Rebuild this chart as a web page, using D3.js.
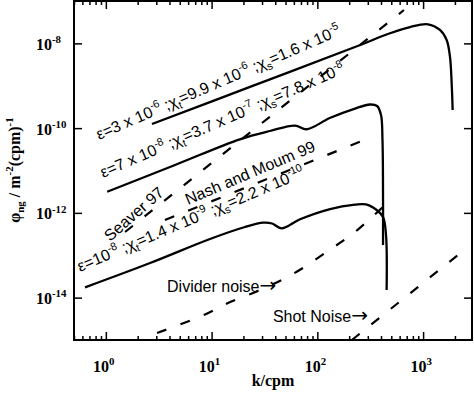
<!DOCTYPE html>
<html><head><meta charset="utf-8">
<script src="https://cdn.jsdelivr.net/npm/d3@7"></script>
<style>body{margin:0;background:#fff}svg{display:block}</style>
</head><body><svg id="c" width="474" height="393"></svg>
<script>
// ---- data ----
const xTickExp = [0, 1, 2, 3];
const yTickExp = [-8, -10, -12, -14];

const c1K   = [2.73, 23.1, 227, 486, 751, 1112, 1443, 1670, 1795, 1862, 1903];
const c1Phi = [1.25e-10, 9.4e-10, 8.2e-9, 1.73e-8, 2.43e-8, 2.82e-8, 2.07e-8, 1.2e-8, 4.85e-9, 1.16e-9, 2.68e-10];

const c2K   = [1.03, 4.51, 18.5, 35.6, 61.5, 79.3, 131, 227, 315, 367, 400, 413, 418, 418];
const c2Phi = [3.16e-12, 1.35e-11, 5.45e-11, 8.55e-11, 1.15e-10, 9.4e-11, 1.73e-10, 2.9e-10, 3.61e-10, 3.33e-10, 2.04e-10, 5.25e-11, 2.0e-12, 1.75e-13];

const c3K   = [0.636, 2.62, 9.66, 20.7, 30.8, 37.3, 46.0, 68.6, 132, 227, 288, 364, 418, 446, 452];
const c3Phi = [1.75e-14, 6.56e-14, 2.42e-13, 4.64e-13, 5.86e-13, 5.61e-13, 4.32e-13, 7.05e-13, 1.23e-12, 1.56e-12, 1.59e-12, 1.17e-12, 8.0e-13, 3.0e-13, 1.51e-14];

const seaverK   = [1.52, 659];
const seaverPhi = [3.54e-13, 6.13e-8];
const nashK     = [3.62, 264];
const nashPhi   = [6.79e-13, 4.97e-11];
const dividerK   = [3.05, 8.47, 14.3, 33.4, 65.6, 126, 227, 446];
const dividerPhi = [1.46e-15, 3.89e-15, 7.47e-15, 1.78e-14, 4.25e-14, 1.26e-13, 3.54e-13, 1.62e-12];
const shotK   = [212, 2700];
const shotPhi = [1.0e-15, 1.62e-13];

const annText = [
  [["ε=3 x 10"],["-6","sup"],[" ;χ"],["t","sub"],["=9.9 x 10"],["-6","sup"],[" ;χ"],["s","sub"],["=1.6 x 10"],["-5","sup"]],
  [["ε=7 x 10"],["-8","sup"],[" ;χ"],["t","sub"],["=3.7 x 10"],["-7","sup"],[" ;χ"],["s","sub"],["=7.8 x 10"],["-8","sup"]],
  [["ε=10"],["-8","sup"],[" ;χ"],["t","sub"],["=1.4 x 10"],["-9","sup"],[" ;χ"],["s","sub"],["=2.2 x 10"],["-10","sup"]],
  [["Seaver 97"]],
  [["Nash and Moum 99"]],
  [["Divider noise"],["→","arrow"]],
  [["Shot Noise"],["→","arrow"]]
];
const annK   = [0.862, 0.940, 0.570, 1.095, 5.98, 3.79, 38.0];
const annPhi = [5.25e-11, 6.65e-12, 4.03e-14, 2.06e-13, 1.53e-12, 1.36e-14, 2.66e-15];
const annRot = [-23.5, -23.5, -23, -41, -23, 0, 0];

// ---- layout ----
const L = 74, R = 472, T = 1, B = 340;
const svg = d3.select("#c");
const x = d3.scaleLog().domain([0.5, 2900]).range([L, R]);
const y = d3.scaleLog().domain([1e-15, 1e-7]).range([B, T]);

const sans = "'Liberation Sans', Arial, sans-serif";
const serif = "'Liberation Serif', 'Times New Roman', serif";

function rich(sel, parts, size) {
  const t = sel.append("text");
  let cur = 0;
  parts.forEach(p => {
    let shift = 0, fs = size;
    if (p[1] === "sup") { shift = -size * 0.42; fs = size * 0.68; }
    if (p[1] === "sub") { shift = size * 0.25; fs = size * 0.68; }
    const s = t.append("tspan").text(p[0]).attr("font-size", fs).attr("dy", shift - cur);
    if (p[1] === "arrow") s.attr("font-family", "'DejaVu Sans'").attr("font-size", size * 1.25);
    cur = shift;
  });
  return t;
}

// clip
svg.append("clipPath").attr("id", "clip").append("rect")
  .attr("x", L).attr("y", T).attr("width", R - L).attr("height", B - T);

// ticks
const majors = xTickExp.map(e => Math.pow(10, e));
const minors = [];
for (let e = -1; e <= 3; e++) for (let m = 2; m <= 9; m++) {
  const v = m * Math.pow(10, e);
  if (v >= 0.5 && v <= 2900) minors.push(v);
}
function styleAxis(g) {
  g.selectAll("text").remove();
  g.select(".domain").remove();
  g.selectAll("line").attr("stroke", "#000").attr("stroke-width", 1.5);
}
svg.append("g").attr("transform", `translate(0,${B})`)
  .call(d3.axisBottom(x).tickValues(majors).tickSize(-8).tickFormat("")).call(styleAxis);
svg.append("g").attr("transform", `translate(0,${B})`)
  .call(d3.axisBottom(x).tickValues(minors).tickSize(-4).tickFormat("")).call(styleAxis);
svg.append("g").attr("transform", `translate(0,${T})`)
  .call(d3.axisTop(x).tickValues(majors).tickSize(-8).tickFormat("")).call(styleAxis);
svg.append("g").attr("transform", `translate(0,${T})`)
  .call(d3.axisTop(x).tickValues(minors).tickSize(-4).tickFormat("")).call(styleAxis);
const yMaj = yTickExp.map(e => Math.pow(10, e));
svg.append("g").attr("transform", `translate(${L},0)`)
  .call(d3.axisLeft(y).tickValues(yMaj).tickSize(-8).tickFormat("")).call(styleAxis);
svg.append("g").attr("transform", `translate(${R},0)`)
  .call(d3.axisRight(y).tickValues(yMaj).tickSize(-8).tickFormat("")).call(styleAxis);

// frame
svg.append("rect").attr("x", L).attr("y", T).attr("width", R - L).attr("height", B - T)
  .attr("fill", "none").attr("stroke", "#000").attr("stroke-width", 2);

// tick labels
xTickExp.forEach(e => {
  rich(svg, [["10"], [String(e), "sup"]], 16)
    .attr("x", x(Math.pow(10, e)) - 2).attr("y", 372)
    .attr("text-anchor", "middle").attr("font-family", serif).attr("font-weight", "bold");
});
yTickExp.forEach(e => {
  rich(svg, [["10"], [String(e), "sup"]], 16)
    .attr("x", 36).attr("y", y(Math.pow(10, e)) + 6.5)
    .attr("font-family", serif).attr("font-weight", "bold");
});

// axis titles
svg.append("text").attr("x", 273).attr("y", 386).attr("text-anchor", "middle")
  .attr("font-family", serif).attr("font-weight", "bold").attr("font-size", 16).text("k/cpm");
rich(svg, [["φ"], ["ng", "sub"], [" / m"], ["-2", "sup"], ["(cpm)"], ["-1", "sup"]], 16)
  .attr("font-family", serif).attr("font-weight", "bold").attr("text-anchor", "middle")
  .attr("transform", "translate(20,170) rotate(-90)");

// curves
const plot = svg.append("g").attr("clip-path", "url(#clip)");
const line = d3.line().x(d => x(d[0])).y(d => y(d[1])).curve(d3.curveCatmullRom.alpha(0.5));
const straight = d3.line().x(d => x(d[0])).y(d => y(d[1]));
function zip(a, b) { return a.map((v, i) => [v, b[i]]); }

[[c1K, c1Phi], [c2K, c2Phi], [c3K, c3Phi]].forEach(([k, p]) => {
  plot.append("path").attr("d", line(zip(k, p))).attr("fill", "none")
    .attr("stroke", "#000").attr("stroke-width", 2.3);
});
[[seaverK, seaverPhi, straight], [nashK, nashPhi, straight], [dividerK, dividerPhi, line], [shotK, shotPhi, straight]]
  .forEach(([k, p, gen]) => {
    plot.append("path").attr("d", gen(zip(k, p))).attr("fill", "none")
      .attr("stroke", "#000").attr("stroke-width", 2.2).attr("stroke-dasharray", "10,15");
  });

// annotations
annText.forEach((parts, i) => {
  const px = x(annK[i]), py = y(annPhi[i]);
  rich(svg, parts, 16).attr("font-family", sans)
    .attr("transform", `translate(${px},${py}) rotate(${annRot[i]})`);
});
</script></body></html>
